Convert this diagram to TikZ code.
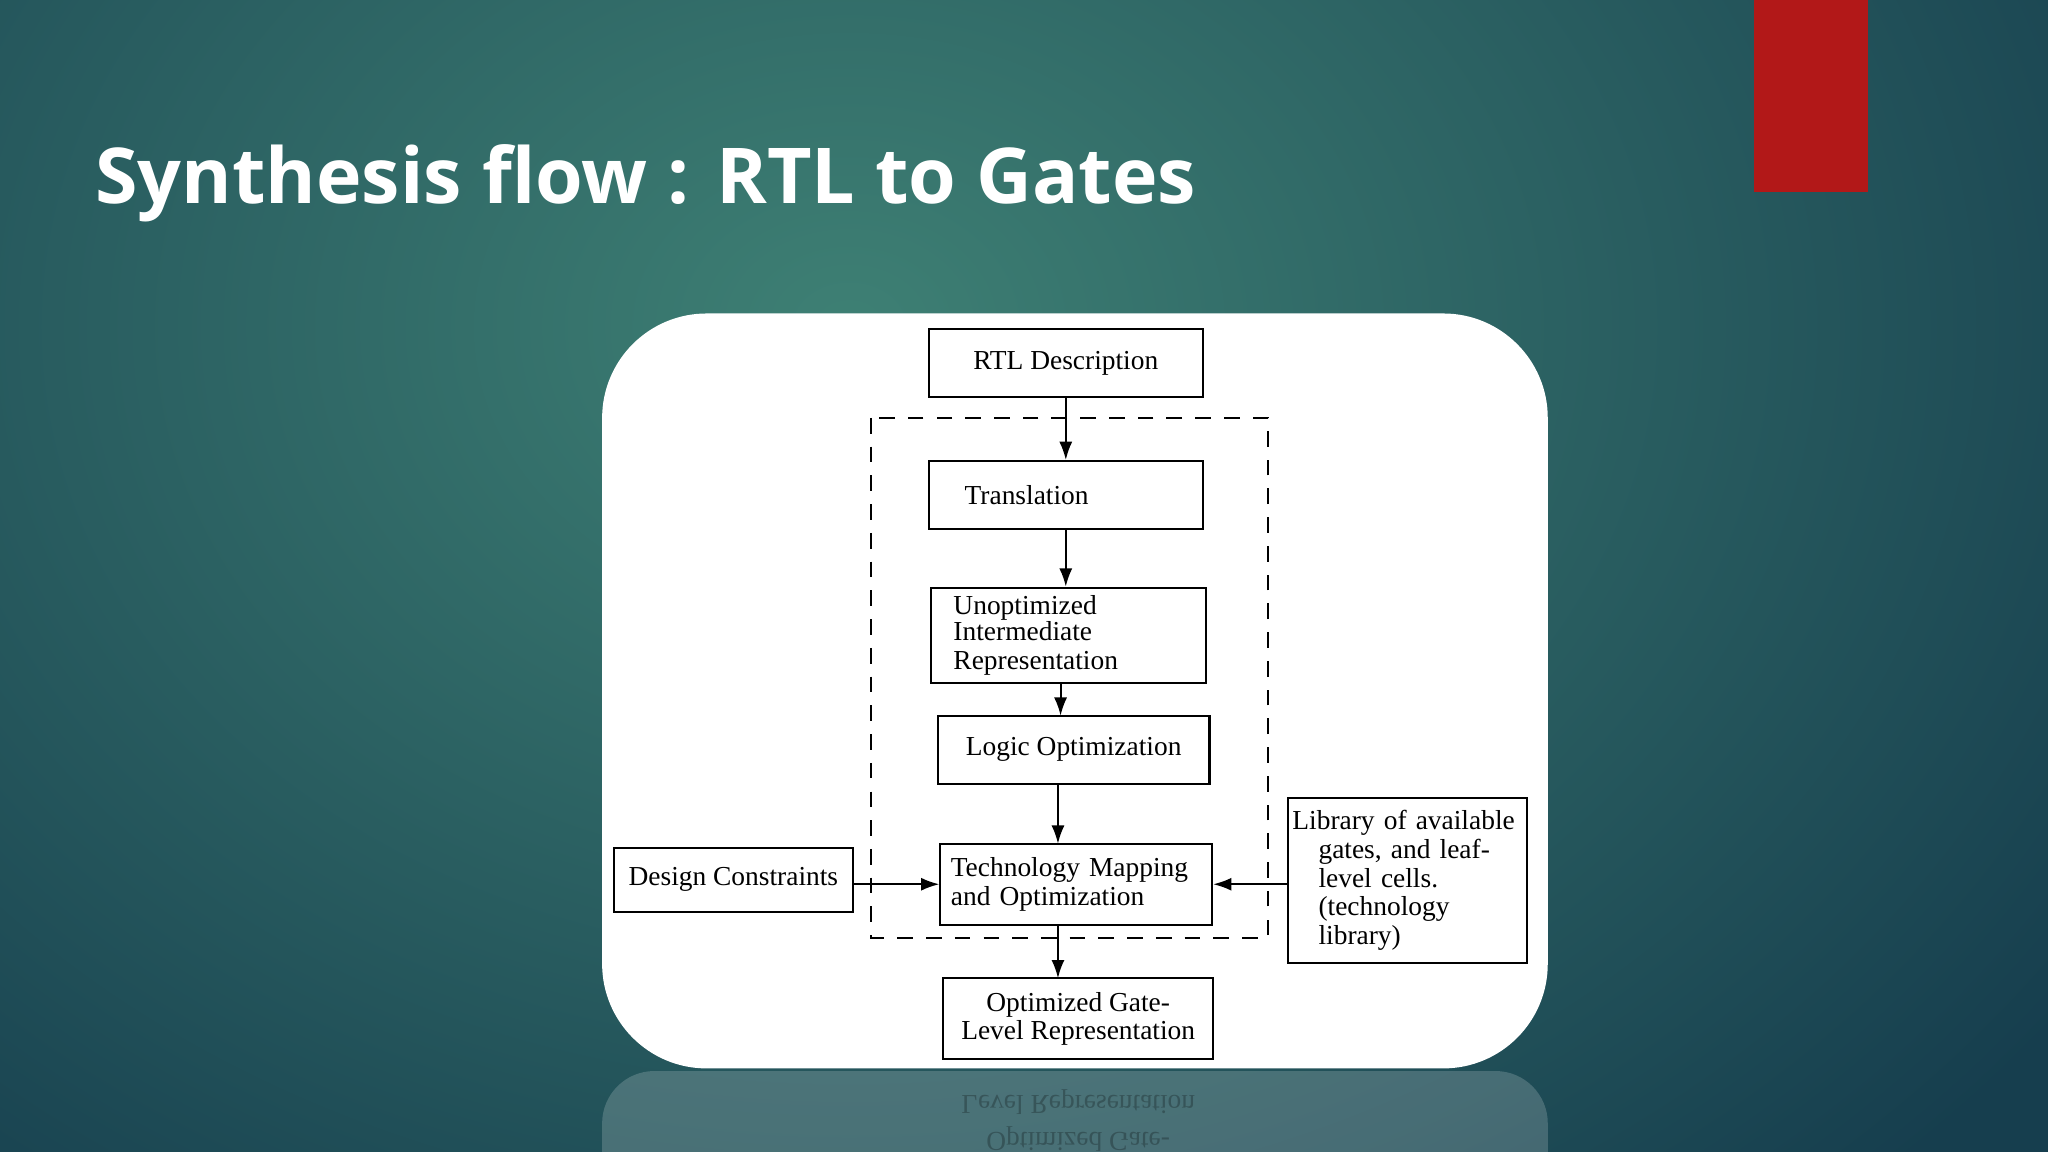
\documentclass[tikz,border=0pt]{standalone}
\usepackage{fontspec}
\setmainfont{Liberation Serif}
\newfontfamily\titlefont{Open Sans}
\usetikzlibrary{positioning,arrows.meta}
\definecolor{bgin}{RGB}{62,128,116}
\definecolor{bgout}{RGB}{22,62,78}
\definecolor{slidered}{RGB}{178,24,24}
\tikzset{
  box/.style={draw,line width=0.8pt,fill=white,align=left,inner sep=0pt,font=\fontsize{10.5}{11}\selectfont},
  flow/.style={line width=0.8pt,-{Latex[length=7pt,width=5pt]}},
}
\begin{document}
\begin{tikzpicture}[x=0.5pt,y=-0.5pt]
			% background and slide
			\useasboundingbox (0,0) rectangle (1568,882);
			\fill[bgout] (0,0) rectangle (1568,882);
			\begin{scope}
			\clip (0,0) rectangle (1568,882);
			\shade[inner color=bgin,outer color=bgout] (-500,-650) rectangle (1800,1150);
			\end{scope}
			\fill[slidered] (1343,0) rectangle (1430,147);
			\node[anchor=west,text=white,font=\titlefont\bfseries\fontsize{29.5}{33}\selectfont] (title) at (66,140) {Synthesis flow : RTL to Gates};
			% white panel and its reflection
			\fill[white,opacity=0.18] (461,882) -- (461,860) arc (180:270:40) -- (1145,820) arc (270:360:40) -- (1185,882) -- cycle;
			\fill[white,rounded corners=40pt] (461,240) rectangle (1185,818);
			\node[yscale=-1,opacity=0.25,align=center,font=\fontsize{10.5}{14}\selectfont] (mirror) at (825.5,858) {Optimized Gate-\\Level Representation};
			
			% dashed frame
			\draw[line width=0.8pt,dash pattern=on 6pt off 5pt] (667,320) rectangle (971,718);
			
			% boxes
			\node[box,minimum width=105pt,minimum height=26pt,align=center] (rtl) at (816,278) {RTL Description};
			\node[box,minimum width=105pt,minimum height=26pt] (trans) at (816,379) {\hspace*{-30pt}Translation};
			\node[box,minimum width=105pt,minimum height=36.5pt,text width=88pt] (unopt) at (818,486.5) {\fontsize{10.5}{10}\selectfont Unoptimized\\Intermediate\\Representation};
			\node[box,minimum width=104pt,minimum height=26pt,align=center] (logic) at (822,574) {Logic Optimization};
			\node[box,minimum width=104pt,minimum height=31pt,text width=96pt] (tech) at (824,677) {Technology Mapping\\and Optimization};
			\node[box,minimum width=103.5pt,minimum height=31pt,align=center] (opt) at (825.5,780) {\fontsize{10.5}{14}\selectfont Optimized Gate-\\Level Representation};
			\node[box,minimum width=91.5pt,minimum height=24.5pt,align=center] (cons) at (561.5,673.5) {Design Constraints};
			\node[box,minimum width=91.5pt,minimum height=63pt,text width=88pt] (lib) at (1077.5,674) {Library of available\\\hspace*{10pt}gates, and leaf-\\\hspace*{10pt}level cells.\\\hspace*{10pt}(technology\\\hspace*{10pt}library)};
			
			% connectors
			\draw[flow] (rtl.south) -- (rtl.south |- trans.north);
			\draw[flow] (trans.south) -- (trans.south |- unopt.north);
			\draw[flow] (812,523) -- (812,548);
			\draw[flow] (810,600) -- (810,646);
			\draw[flow] (810,708) -- (810,749);
			\draw[flow] (cons.east |- tech.west) -- (tech.west);
			\draw[flow] (lib.west |- tech.east) -- (tech.east);
\end{tikzpicture}
\end{document}
